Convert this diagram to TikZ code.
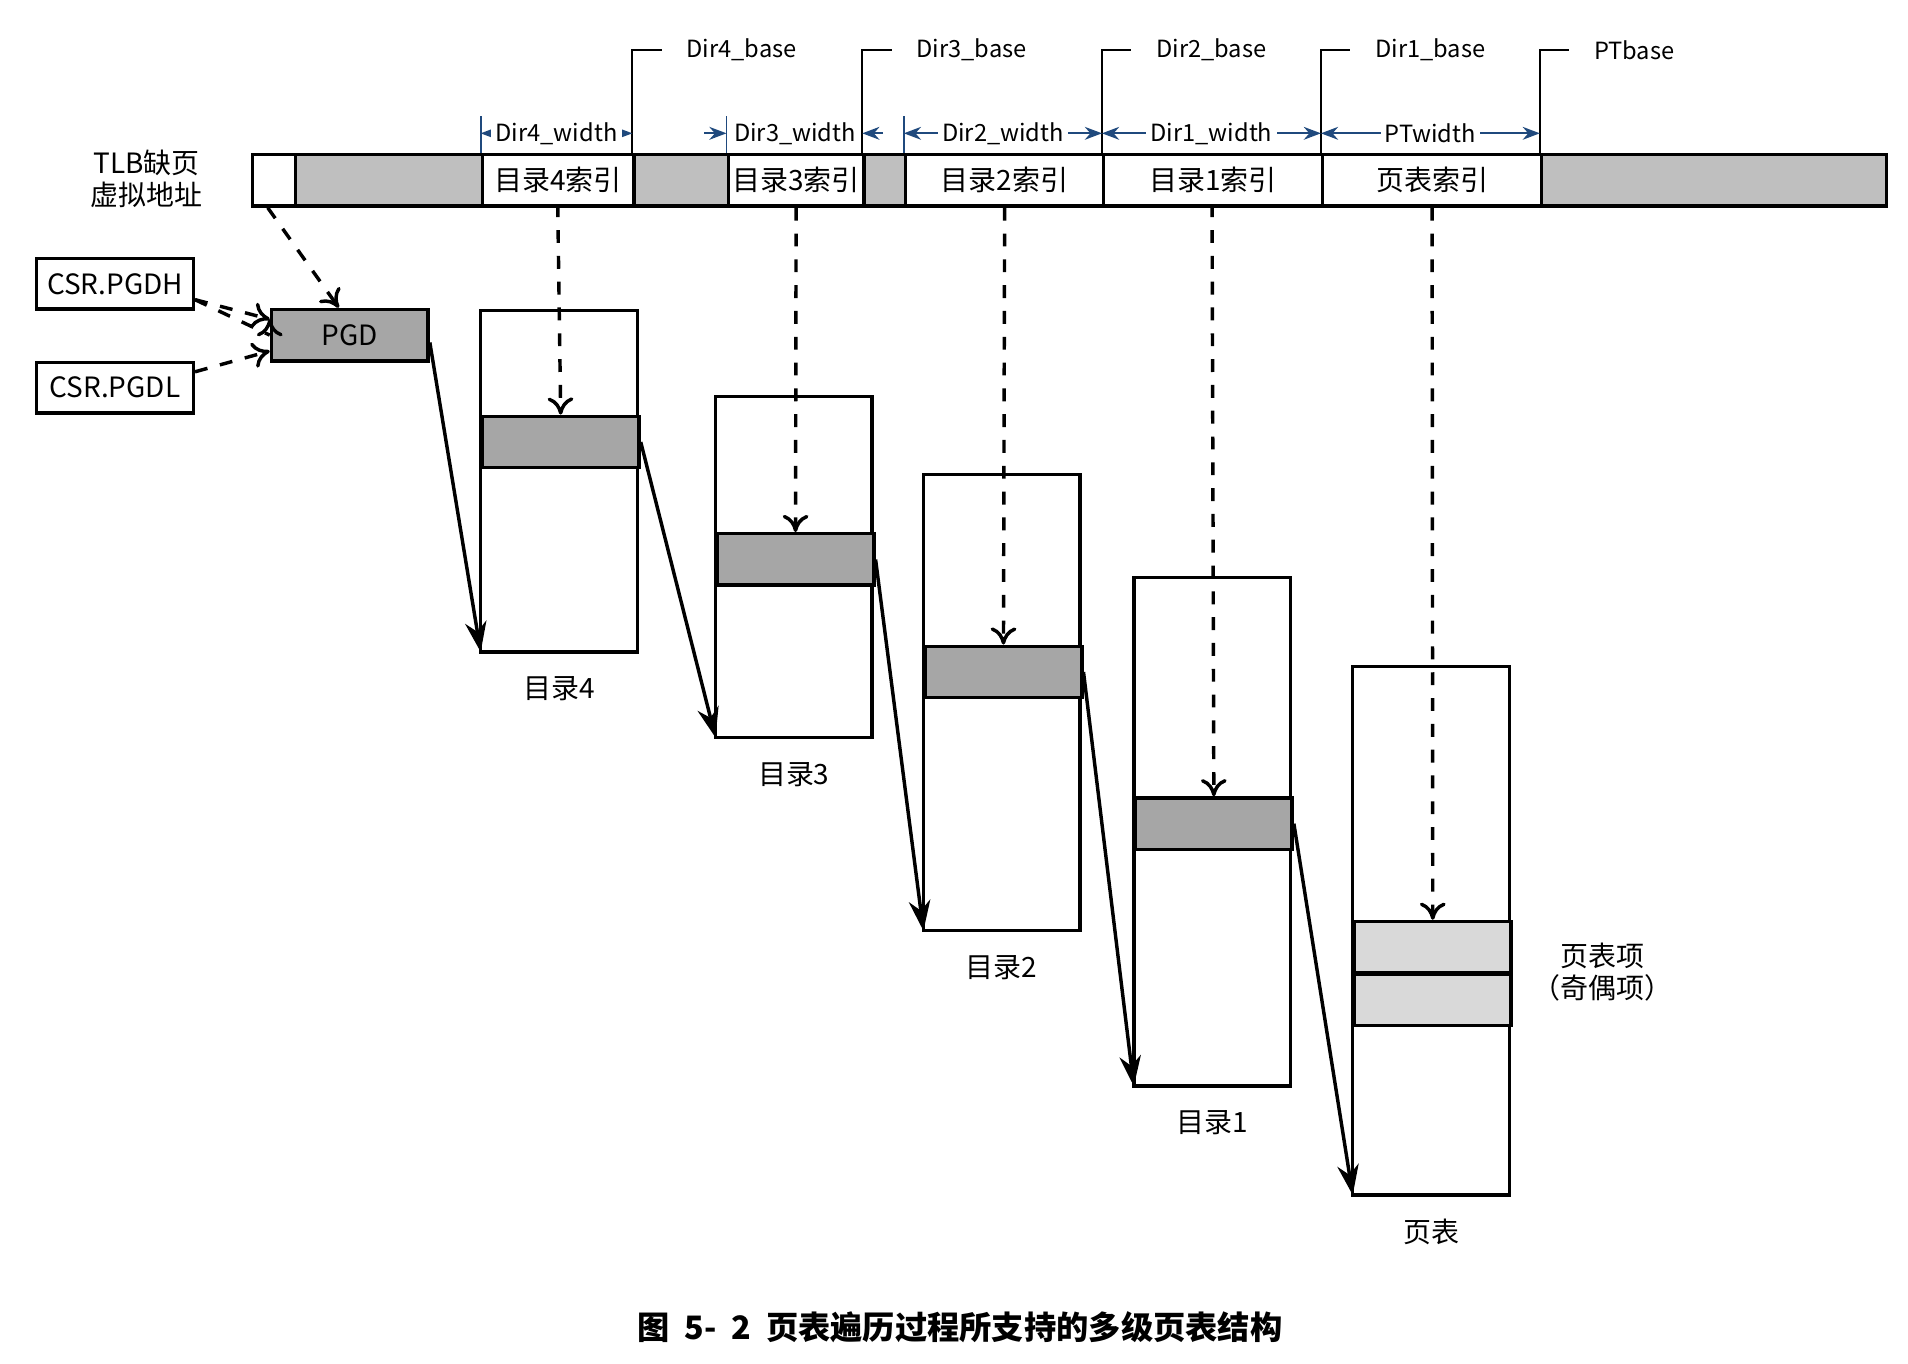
\documentclass[tikz,border=0pt]{standalone}
\usepackage{fontspec}
\setmainfont{Noto Sans CJK SC}
\usetikzlibrary{arrows.meta}
\definecolor{barfill}{RGB}{191,191,191}
\definecolor{entry}{RGB}{166,166,166}
\definecolor{pte}{RGB}{217,217,217}
\definecolor{dimblue}{RGB}{31,73,125}
\begin{document}
\begin{tikzpicture}[x=0.01cm,y=-0.01cm,
    box/.style = {draw,thick,inner sep=0pt,font=\fontsize{6.5}{7}\selectfont},
    lbl/.style = {font=\fontsize{6.5}{7.5}\selectfont,align=center},
    small/.style = {font=\fontsize{5.5}{6}\selectfont,anchor=west},
    ptr/.style = {thick,dashed,-{To[length=4pt,width=6pt]}},
    walk/.style = {thick,-{Stealth[length=7pt,width=5pt]}},
    dim/.style = {dimblue,{Stealth[length=4pt]}-{Stealth[length=4pt]}}]
\useasboundingbox (0,0) rectangle (1560,1115);
% virtual address bar
\foreach \a/\b/\f/\t/\n in {205/240/white//v0,240/393/barfill//v1,393/517/white/目录4索引/i4,
        517/594/barfill//v2,594/705/white/目录3索引/i3,705/739/barfill//v3,
        739/901/white/目录2索引/i2,901/1080/white/目录1索引/i1,1080/1259/white/页表索引/ip,
        1259/1541/barfill//v4}
    \node[box,fill=\f,anchor=north west,minimum width=(\b-\a)*0.01cm,minimum height=0.42cm] (\n) at (\a,125) {\t};
\node[lbl] (tlb) at (120,146) {TLB缺页\\虚拟地址};
% base marks
\foreach \x/\t in {517/Dir4\_base,705/Dir3\_base,901/Dir2\_base,1080/Dir1\_base,1259/PTbase} {
    \draw (\x,125) -- (\x,41) -- (\x+24,41);
    \node[small] at (\x+32,41) {\t};
}
% widths
\foreach \x in {393,594,739} \draw[dimblue] (\x,95) -- (\x,125);
\draw[dim] (393,109) -- node[fill=white,inner sep=1pt,font=\fontsize{5.5}{6}\selectfont,text=black] {Dir4\_width} (517,109);
\draw[dimblue,-{Stealth[length=4pt]}] (576,109) -- (594,109);
\draw[dimblue,-{Stealth[length=4pt]}] (722,109) -- (705,109);
\node[font=\fontsize{5.5}{6}\selectfont] at (650,109) {Dir3\_width};
\draw[dim] (739,109) -- node[fill=white,inner sep=1pt,font=\fontsize{5.5}{6}\selectfont,text=black] {Dir2\_width} (901,109);
\draw[dim] (901,109) -- node[fill=white,inner sep=1pt,font=\fontsize{5.5}{6}\selectfont,text=black] {Dir1\_width} (1080,109);
\draw[dim] (1080,109) -- node[fill=white,inner sep=1pt,font=\fontsize{5.5}{6}\selectfont,text=black] {PTwidth} (1259,109);
% registers and PGD
\node[box,minimum width=1.28cm,minimum height=0.41cm] (pgdh) at (94,232) {CSR.PGDH};
\node[box,minimum width=1.28cm,minimum height=0.41cm] (pgdl) at (94,317) {CSR.PGDL};
\node[box,fill=entry,minimum width=1.28cm,minimum height=0.42cm] (pgd) at (286,274) {PGD};
\draw[ptr] (v0.south) ++(-5,0) coordinate (v0s) -- (pgd.north west -| 277,0) coordinate (pgdt);
\draw[ptr] (pgdh.east) ++(0,13) -- (pgd.west) ++(0,-13);
\draw[ptr] ([yshift=-0.13cm]pgdh.east) -- ([yshift=0.13cm]pgd.west);
\draw[ptr] ([yshift=0.13cm]pgdl.east) -- ([yshift=-0.13cm]pgd.west);
% tables
\foreach \n/\x/\t/\b/\e/\l in {d4/393/254/533/339/目录4,d3/585/324/603/435/目录3,
        d2/755/388/761/527/目录2,d1/927/472/888/651/目录1} {
    \draw[thick] (\x,\t) rectangle (\x+128,\b);
    \node[box,fill=entry,anchor=north west,minimum width=1.28cm,minimum height=0.42cm] (\n) at (\x,\e) {};
    \coordinate (\n bl) at (\x,\b);
    \node[lbl] at (\x+64,\b+30) {\l};
}
\draw[thick] (1106,545) rectangle (1234,977);
\node[box,fill=pte,anchor=north west,minimum width=1.28cm,minimum height=0.42cm] (pt) at (1106,752) {};
\node[box,fill=pte,anchor=north west,minimum width=1.28cm,minimum height=0.42cm] (pt2) at (1106,795) {};
\coordinate (ptbl) at (1106,977);
\node[lbl] at (1170,1007) {页表};
\node[lbl] at (1310,795) {页表项\\（奇偶项）};
% index lookups
\draw[ptr] (456,167) -- (d4.north);
\draw[ptr] (i3.south) -- (d3.north);
\draw[ptr] (i2.south) -- (d2.north);
\draw[ptr] (991,167) -- (d1.north);
\draw[ptr] (ip.south) -- (pt.north);
% walk
\draw[walk] ([yshift=-0.06cm]pgd.east) -- (d4bl);
\draw[walk] (d4.east) -- (d3bl);
\draw[walk] (d3.east) -- (d2bl);
\draw[walk] (d2.east) -- (d1bl);
\draw[walk] (d1.east) -- (ptbl);
\node[font=\bfseries\fontsize{7.5}{8}\selectfont] at (785,1085) {图\ \ 5-\ \ 2\ \ 页表遍历过程所支持的多级页表结构};
\end{tikzpicture}
\end{document}
